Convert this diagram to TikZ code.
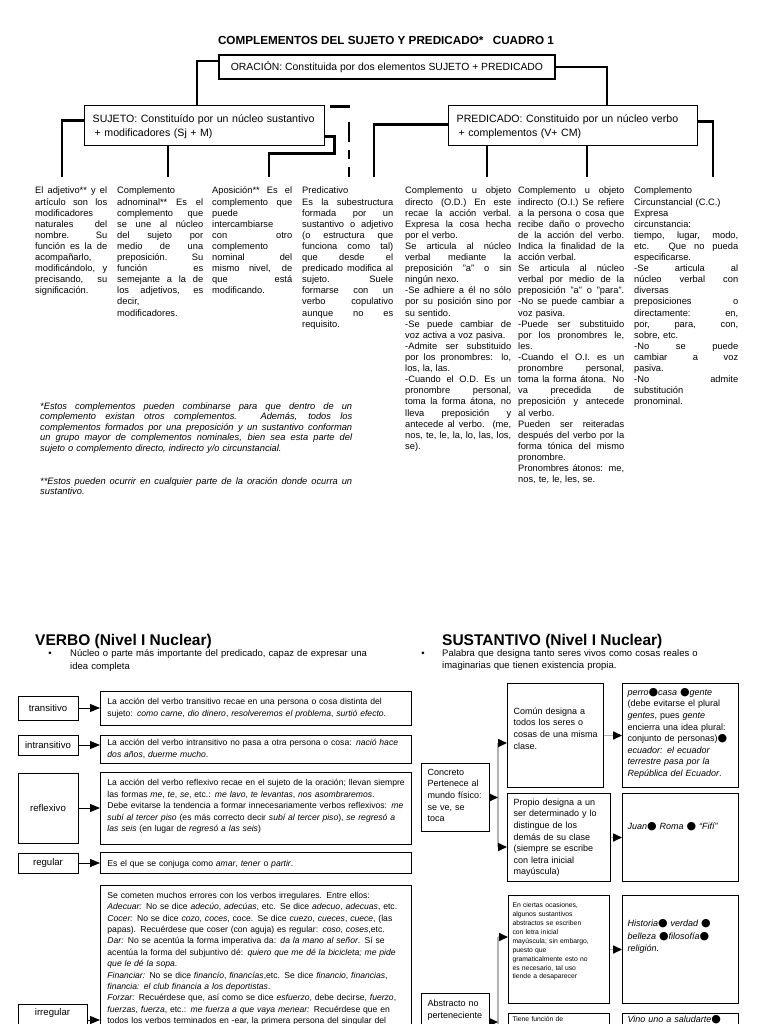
\documentclass[tikz,border=0pt]{standalone}
\usepackage{fontspec}
\setmainfont{Liberation Sans}
\newfontfamily\dotfont{DejaVu Sans}
\usetikzlibrary{arrows.meta}
\definecolor{spinegray}{HTML}{B2B2B2}
\newcommand\jl[1]{\makebox[\linewidth][s]{\spaceskip=0pt\xspaceskip=0pt\relax #1}\\}
\newcommand\bdot{{\dotfont\fontsize{11}{11}\selectfont ●}}

\begin{document}
\begin{tikzpicture}[x=1pt,y=-1pt,
conn/.style={line width=2.4pt},
topbox/.style={draw,line width=1.4pt,inner sep=0pt,font=\fontsize{10.6}{14}\selectfont},
col/.style={anchor=base west,align=left,inner sep=0pt,font=\fontsize{9.3}{11.1}\selectfont},
vlabel/.style={draw,line width=0.9pt,minimum width=60pt,inner sep=0pt,font=\fontsize{9.6}{12}\selectfont},
vdesc/.style={draw,line width=0.9pt,anchor=north west,align=left,inner xsep=7pt,inner ysep=0pt,text width=297pt,font=\fontsize{8.6}{11.5}\selectfont},
varrow/.style={line width=0.8pt,-{Triangle[length=10pt,width=8pt]}},
sbox/.style={draw,line width=1pt,anchor=north west,align=left,inner xsep=6pt,inner ysep=0pt,font=\fontsize{9}{11.6}\selectfont},
sarrow/.style={spinegray,line width=1.6pt,-{Triangle[length=9pt,width=8pt,color=black]}}]
\useasboundingbox (0,0) rectangle (768,1024);
\fill[white] (0,0) rectangle (768,1024);
\clip (0,0) rectangle (768,1024);

\node[font=\bfseries\fontsize{11.7}{14}\selectfont] (titulo) at (386,40) {COMPLEMENTOS DEL SUJETO Y PREDICADO*\hspace{0.8em}CUADRO 1};
\node[topbox,minimum width=336pt,minimum height=24pt,font=\fontsize{10.4}{12}\selectfont] (oracion) at (387,67) {ORACIÓN: Constituida por dos elementos SUJETO + PREDICADO};
\node[topbox,anchor=north west,align=left,text width=224pt,inner xsep=8pt,text height=16.5pt,text depth=23.5pt] (sujeto) at (84,105) {SUJETO: Constituído por un núcleo sustantivo\\\hspace*{2pt}+ modificadores (Sj + M)};
\node[topbox,anchor=north west,align=left,text width=233pt,inner xsep=8pt,text height=16.5pt,text depth=23.5pt] (predicado) at (448,105) {PREDICADO: Constituido por un núcleo verbo\\\hspace*{2pt}+ complementos (V+ CM)};

\coordinate (adjtop) at (62,177);
\coordinate (adntop) at (168,177);
\coordinate (apotop) at (269,177);
\coordinate (predtop) at (349,177);
\coordinate (predtopb) at (374,177);
\coordinate (odtop) at (487,177);
\coordinate (oitop) at (587,177);
\coordinate (cctop) at (713,177);

\draw[conn] ([yshift=6pt]oracion.west) -| ([xshift=-8pt]sujeto.north);
\draw[conn] (oracion.east) -| ([xshift=33.5pt]predicado.north);
\draw[conn] ([yshift=5pt]sujeto.west) -| (adjtop);
\draw[conn] (sujeto.south -| adntop) -- (adntop);
\draw[conn] ([yshift=-11pt]sujeto.east) -- ++(9,0) -- ++(0,17) -| (apotop);
\draw[conn,dash pattern=on 20pt off 14pt on 20pt off 8pt on 9pt off 8pt on 12pt off 20pt] ([xshift=5pt,yshift=-1.5pt]sujeto.north east) -| (predtop);
\draw[conn] ([yshift=1pt]predicado.west) -| (predtopb);
\draw[conn] (predicado.south -| odtop) -- (odtop);
\draw[conn] (predicado.south -| oitop) -- (oitop);
\draw[conn] ([yshift=4pt]predicado.east) -| (cctop);

\node[col,text width=72pt] (adjetivo) at (35,194) {\jl{El adjetivo** y el}\jl{artículo son los}modificadores\\\jl{naturales del}\jl{nombre. Su}\jl{función es la de}acompañarlo,\\\jl{modificándolo, y}\jl{precisando, su}significación.};
\node[col,text width=86pt] (adnominal) at (117,194) {Complemento\\\jl{adnominal** Es el}\jl{complemento que}\jl{se une al núcleo}\jl{del sujeto por}\jl{medio de una}\jl{preposición. Su}\jl{función es}\jl{semejante a la de}\jl{los adjetivos, es}decir,\\modificadores.};
\node[col,text width=80pt] (aposicion) at (212,194) {\jl{Aposición** Es el}\jl{complemento que}puede\\intercambiarse\\\jl{con otro}complemento\\\jl{nominal del}\jl{mismo nivel, de}\jl{que está}modificando.};
\node[col,text width=91pt] (predicativo) at (302,194) {Predicativo\\\jl{Es la subestructura}\jl{formada por un}\jl{sustantivo o adjetivo}\jl{(o estructura que}\jl{funciona como tal)}\jl{que desde el}\jl{predicado modifica al}\jl{sujeto. Suele}\jl{formarse con un}\jl{verbo copulativo}\jl{aunque no es}requisito.};
\node[col,text width=106pt] (directo) at (405,194) {\jl{Complemento u objeto}\jl{directo (O.D.) En este}\jl{recae la acción verbal.}\jl{Expresa la cosa hecha}por el verbo.\\\jl{Se articula al núcleo}\jl{verbal mediante la}\jl{preposición "a" o sin}ningún nexo.\\\jl{-Se adhiere a él no sólo}\jl{por su posición sino por}su sentido.\\\jl{-Se puede cambiar de}voz activa a voz pasiva.\\\jl{-Admite ser substituido}\jl{por los pronombres: lo,}los, la, las.\\\jl{-Cuando el O.D. Es un}\jl{pronombre personal,}\jl{toma la forma átona, no}\jl{lleva preposición y}\jl{antecede al verbo. (me,}\jl{nos, te, le, la, lo, las, los,}se).};
\node[col,text width=106pt] (indirecto) at (518,194) {\jl{Complemento u objeto}\jl{indirecto (O.I.) Se refiere}\jl{a la persona o cosa que}\jl{recibe daño o provecho}\jl{de la acción del verbo.}\jl{Indica la finalidad de la}acción verbal.\\\jl{Se articula al núcleo}\jl{verbal por medio de la}\jl{preposición "a" o "para".}\jl{-No se puede cambiar a}voz pasiva.\\\jl{-Puede ser substituido}\jl{por los pronombres le,}les.\\\jl{-Cuando el O.I. es un}\jl{pronombre personal,}\jl{toma la forma átona. No}\jl{va precedida de}\jl{preposición y antecede}al verbo.\\\jl{Pueden ser reiteradas}\jl{después del verbo por la}\jl{forma tónica del mismo}pronombre.\\\jl{Pronombres átonos: me,}nos, te, le, les, se.};
\node[col,text width=104pt] (circunstancial) at (634,194) {Complemento\\Circunstancial (C.C.)\\Expresa\\circunstancia:\\\jl{tiempo, lugar, modo,}\jl{etc. Que no pueda}especificarse.\\\jl{-Se articula al}\jl{núcleo verbal con}diversas\\\jl{preposiciones o}\jl{directamente: en,}\jl{por, para, con,}sobre, etc.\\\jl{-No se puede}\jl{cambiar a voz}pasiva.\\\jl{-No admite}substitución\\pronominal.};

\node[col,text width=312pt,font=\itshape\fontsize{9.3}{10.5}\selectfont] (nota) at (40,409) {\jl{*Estos complementos pueden combinarse para que dentro de un}\jl{complemento existan otros complementos. Además, todos los}\jl{complementos formados por una preposición y un sustantivo conforman}\jl{un grupo mayor de complementos nominales, bien sea esta parte del}sujeto o complemento directo, indirecto y/o circunstancial.};
\node[col,text width=312pt,font=\itshape\fontsize{9.3}{10.5}\selectfont] (notab) at (40,484) {\jl{**Estos pueden ocurrir en cualquier parte de la oración donde ocurra un}sustantivo.};

\node[anchor=base west,inner sep=0pt,font=\bfseries\fontsize{15.5}{18}\selectfont] (verbo) at (35,645.5) {VERBO (Nivel I Nuclear)};
\node[anchor=base,inner sep=0pt,font=\fontsize{9.5}{12}\selectfont] (vpunto) at (50,656) {•};
\node[col,text width=320pt,font=\fontsize{9.5}{13}\selectfont] (vdef) at (70,656) {Núcleo o parte más importante del predicado, capaz de expresar una\\idea completa};
\node[anchor=base west,inner sep=0pt,font=\bfseries\fontsize{15.5}{18}\selectfont] (sustantivo) at (442,645.5) {SUSTANTIVO (Nivel I Nuclear)};
\node[anchor=base,inner sep=0pt,font=\fontsize{9.5}{12}\selectfont] (spunto) at (423,656) {•};
\node[col,text width=300pt,font=\fontsize{9.5}{12}\selectfont] (sdef) at (442,656) {Palabra que designa tanto seres vivos como cosas reales o\\imaginarias que tienen existencia propia.};

\node[vlabel,minimum height=24pt] (transitivo) at (48,708) {transitivo};
\node[vlabel,minimum height=20pt] (intransitivo) at (48,745) {intransitivo};
\node[vlabel,minimum height=70pt] (reflexivo) at (48,808) {reflexivo};
\node[vlabel,minimum height=20pt] (regular) at (48,863) {regular};
\node[vlabel,minimum width=69pt,anchor=north,text height=11pt,text depth=40pt] (irregular) at (52.5,1004) {irregular};

\node[vdesc,text height=13.5pt,text depth=20.5pt] (dtrans) at (100,691) {La acción del verbo transitivo recae en una persona o cosa distinta del\\sujeto: \textit{como carne}, \textit{dio dinero}, \textit{resolveremos el problema}, \textit{surtió efecto}.};
\node[vdesc,text height=10.5pt,text depth=17.5pt] (dintr) at (100,735) {La acción del verbo intransitivo no pasa a otra persona o cosa: \textit{nació hace}\\\textit{dos años}, \textit{duerme mucho}.};
\node[vdesc,text height=13.5pt,text depth=58.5pt] (dreflex) at (100,772) {\mbox{La acción del verbo reflexivo recae en el sujeto de la oración; llevan siempre}\\las formas \textit{me}, \textit{te}, \textit{se}, etc.: \textit{me lavo}, \textit{te levantas}, \textit{nos asombraremos}.\\\mbox{Debe evitarse la tendencia a formar innecesariamente verbos reflexivos: \textit{me}}\\\textit{subí al tercer piso} (es más correcto decir \textit{subí al tercer piso}), \textit{se regresó a}\\\textit{las seis} (en lugar de \textit{regresó a las seis})};
\node[vdesc,text height=13.8pt,text depth=7.2pt] (dreg) at (100,852) {Es el que se conjuga como \textit{amar}, \textit{tener} o \textit{partir}.};
\node[vdesc,text height=12.8pt,text depth=150pt,font=\fontsize{8.6}{11.4}\selectfont] (dirreg) at (100,885) {Se cometen muchos errores con los verbos irregulares. Entre ellos:\\\textit{Adecuar:} No se dice \textit{adecúo}, \textit{adecúas}, etc. Se dice \textit{adecuo}, \textit{adecuas}, etc.\\\textit{Cocer:} No se dice \textit{cozo}, \textit{coces}, coce. Se dice \textit{cuezo}, \textit{cueces}, \textit{cuece}, (las\\papas). Recuérdese que coser (con aguja) es regular: \textit{coso}, \textit{coses},etc.\\\textit{Dar:} No se acentúa la forma imperativa da: \textit{da la mano al señor}. Sí se\\acentúa la forma del subjuntivo dé: \textit{quiero que me dé la bicicleta; me pide}\\\textit{que le dé la sopa}.\\\textit{Financiar:} No se dice \textit{financío}, \textit{financías},etc. Se dice \textit{financio}, \textit{financias},\\\textit{financia: el club financia a los deportistas}.\\\textit{Forzar:} Recuérdese que, así como se dice \textit{esfuerzo}, debe decirse, \textit{fuerzo},\\\mbox{\textit{fuerzas}, \textit{fuerza}, etc.: \textit{me fuerza a que vaya menear:} Recuérdese que en}\\\mbox{todos los verbos terminados en -ear, la primera persona del singular del}};

\coordinate (irrarrow) at ([yshift=-16pt]irregular.north east);
\draw[varrow] (transitivo.east) -- (transitivo.east -| dtrans.west);
\draw[varrow] (intransitivo.east) -- (intransitivo.east -| dintr.west);
\draw[varrow] (reflexivo.east) -- (reflexivo.east -| dreflex.west);
\draw[varrow] (regular.east) -- (regular.east -| dreg.west);
\draw[varrow] (irrarrow) -- (irrarrow -| dirreg.west);

\node[sbox,text width=56pt,text height=11.7pt,text depth=56.3pt] (concreto) at (421,763) {Concreto\\Pertenece al\\mundo físico:\\se ve, se\\toca};
\node[sbox,text width=84pt,text height=30.7pt,text depth=73.3pt] (comun) at (507,683) {Común designa a\\todos los seres o\\\mbox{cosas de una misma}\\clase.};
\node[sbox,text width=91pt,text height=11.7pt,text depth=76.3pt] (propio) at (507,793) {Propio designa a un\\ser determinado y lo\\distingue de los\\demás de su clase\\(siempre se escribe\\con letra inicial\\mayúscula)};
\node[sbox,text width=106pt,inner xsep=5pt,text height=11.7pt,text depth=92.3pt] (cejem) at (622,683) {\textit{perro}\bdot\textit{casa}~\bdot\textit{gente}\\(debe evitarse el plural\\\textit{gentes}, pues \textit{gente}\\encierra una idea plural:\\conjunto de personas)\bdot\\\textit{ecuador: el ecuador}\\\textit{terrestre pasa por la}\\\textit{República del Ecuador}.};
\node[sbox,text width=106pt,inner xsep=5pt,text height=36pt,text depth=52pt,font=\itshape\fontsize{9}{11.6}\selectfont] (pejem) at (622,793) {Juan\bdot\ Roma \bdot\ “Fifí”};
\node[sbox,text width=93pt,inner xsep=4pt,text height=12.2pt,text depth=95.8pt,font=\fontsize{6.8}{8.9}\selectfont] (ciertas) at (508,895) {En ciertas ocasiones,\\algunos sustantivos\\abstractos se escriben\\con letra inicial\\mayúscula; sin embargo,\\puesto que\\gramaticalmente esto no\\es necesario, tal uso\\tiende a desaparecer};
\node[sbox,text width=106pt,inner xsep=5pt,text height=31pt,text depth=77pt,font=\itshape\fontsize{9}{12.5}\selectfont] (hejem) at (622,895) {Historia\bdot\ verdad \bdot\\belleza \bdot filosofía\bdot\\religión.};
\node[sbox,text width=56pt,text height=13pt,text depth=40pt] (abstracto) at (421,993) {Abstracto no\\perteneciente};
\node[sbox,text width=93pt,inner xsep=4pt,text height=8pt,text depth=30pt,font=\fontsize{6.8}{8.9}\selectfont] (tiene) at (508,1013) {Tiene función de};
\node[sbox,text width=106pt,inner xsep=5pt,text height=8.5pt,text depth=30pt,font=\itshape\fontsize{9}{11.6}\selectfont] (vino) at (622,1013) {Vino uno a saludarte\bdot};

\coordinate (spa) at (498,743);
\coordinate (spb) at (498,847);
\coordinate (spc) at (498,937);
\coordinate (spd) at (498,1030);
\coordinate (abarrow) at ([yshift=-29pt]abstracto.north east);
\draw[spinegray,line width=1.6pt] (spa) -- (spb);
\draw[spinegray,line width=1.6pt] (spc) -- (spd);
\draw[sarrow] (concreto.east) -- (concreto.east -| spa);
\draw[sarrow] (spa) -- (spa -| comun.west);
\draw[sarrow] (spb) -- (spb -| propio.west);
\draw[sarrow] (comun.east) -- (comun.east -| cejem.west);
\draw[sarrow] (propio.east) -- (propio.east -| pejem.west);
\draw[sarrow] (spc) -- (spc -| ciertas.west);
\draw[sarrow] (ciertas.east) -- (ciertas.east -| hejem.west);
\draw[sarrow] (abarrow) -- (abarrow -| spd);
\end{tikzpicture}
\end{document}
